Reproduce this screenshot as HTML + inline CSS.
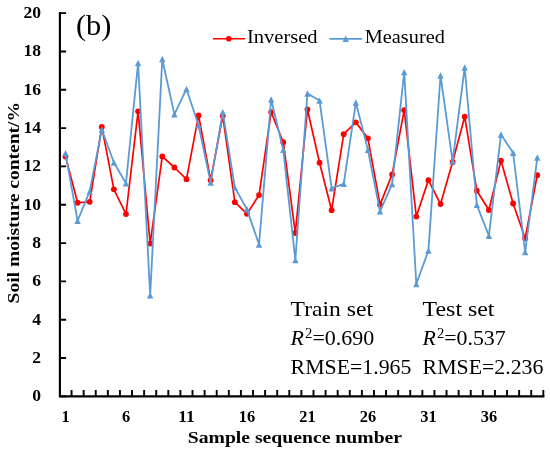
<!DOCTYPE html><html><head><meta charset="utf-8"><title>Chart b</title><style>html,body{margin:0;padding:0;background:#fff}svg{display:block}text{font-family:"Liberation Serif","DejaVu Serif",serif;fill:#000}.b{font-weight:bold}</style></head><body>
<svg width="550" height="454" viewBox="0 0 550 454">
<rect width="550" height="454" fill="#fff"/>
<g stroke="#000" stroke-width="2.15" fill="none" stroke-linecap="square">
<path d="M59.90 13.10V396.40H543.33"/>
</g>
<g stroke="#000" stroke-width="1.9" fill="none">
<path d="M59.90 396.40h6.2M59.90 358.07h6.2M59.90 319.74h6.2M59.90 281.41h6.2M59.90 243.08h6.2M59.90 204.75h6.2M59.90 166.42h6.2M59.90 128.09h6.2M59.90 89.76h6.2M59.90 51.43h6.2M59.90 13.10h6.2M71.55 396.40v-6.4M83.64 396.40v-6.4M95.74 396.40v-6.4M107.84 396.40v-6.4M119.94 396.40v-6.4M132.03 396.40v-6.4M144.13 396.40v-6.4M156.23 396.40v-6.4M168.32 396.40v-6.4M180.42 396.40v-6.4M192.52 396.40v-6.4M204.61 396.40v-6.4M216.71 396.40v-6.4M228.81 396.40v-6.4M240.90 396.40v-6.4M253.00 396.40v-6.4M265.10 396.40v-6.4M277.20 396.40v-6.4M289.29 396.40v-6.4M301.39 396.40v-6.4M313.49 396.40v-6.4M325.58 396.40v-6.4M337.68 396.40v-6.4M349.78 396.40v-6.4M361.88 396.40v-6.4M373.97 396.40v-6.4M386.07 396.40v-6.4M398.17 396.40v-6.4M410.26 396.40v-6.4M422.36 396.40v-6.4M434.46 396.40v-6.4M446.55 396.40v-6.4M458.65 396.40v-6.4M470.75 396.40v-6.4M482.84 396.40v-6.4M494.94 396.40v-6.4M507.04 396.40v-6.4M519.14 396.40v-6.4M531.23 396.40v-6.4M543.33 396.40v-6.4"/></g>
<polyline points="65.50,156.38 77.60,202.75 89.69,201.79 101.79,126.88 113.89,189.34 125.98,214.05 138.08,111.36 150.18,243.56 162.27,156.38 174.37,167.50 186.47,179.18 198.57,115.38 210.66,180.14 222.76,115.76 234.86,202.18 246.95,213.86 259.05,195.09 271.15,112.12 283.24,142.20 295.34,233.02 307.44,109.44 319.54,162.71 331.63,210.22 343.73,134.16 355.83,122.28 367.92,138.37 380.02,204.67 392.12,174.39 404.21,110.21 416.31,216.55 428.41,180.14 440.51,204.09 452.60,161.94 464.70,116.72 476.80,190.68 488.89,210.03 500.99,160.60 513.09,203.52 525.18,238.20 537.28,175.16" fill="none" stroke="#ff0000" stroke-width="1.7" stroke-linejoin="round"/>
<g fill="#ff0000"><circle cx="65.50" cy="156.38" r="2.9"/><circle cx="77.60" cy="202.75" r="2.9"/><circle cx="89.69" cy="201.79" r="2.9"/><circle cx="101.79" cy="126.88" r="2.9"/><circle cx="113.89" cy="189.34" r="2.9"/><circle cx="125.98" cy="214.05" r="2.9"/><circle cx="138.08" cy="111.36" r="2.9"/><circle cx="150.18" cy="243.56" r="2.9"/><circle cx="162.27" cy="156.38" r="2.9"/><circle cx="174.37" cy="167.50" r="2.9"/><circle cx="186.47" cy="179.18" r="2.9"/><circle cx="198.57" cy="115.38" r="2.9"/><circle cx="210.66" cy="180.14" r="2.9"/><circle cx="222.76" cy="115.76" r="2.9"/><circle cx="234.86" cy="202.18" r="2.9"/><circle cx="246.95" cy="213.86" r="2.9"/><circle cx="259.05" cy="195.09" r="2.9"/><circle cx="271.15" cy="112.12" r="2.9"/><circle cx="283.24" cy="142.20" r="2.9"/><circle cx="295.34" cy="233.02" r="2.9"/><circle cx="307.44" cy="109.44" r="2.9"/><circle cx="319.54" cy="162.71" r="2.9"/><circle cx="331.63" cy="210.22" r="2.9"/><circle cx="343.73" cy="134.16" r="2.9"/><circle cx="355.83" cy="122.28" r="2.9"/><circle cx="367.92" cy="138.37" r="2.9"/><circle cx="380.02" cy="204.67" r="2.9"/><circle cx="392.12" cy="174.39" r="2.9"/><circle cx="404.21" cy="110.21" r="2.9"/><circle cx="416.31" cy="216.55" r="2.9"/><circle cx="428.41" cy="180.14" r="2.9"/><circle cx="440.51" cy="204.09" r="2.9"/><circle cx="452.60" cy="161.94" r="2.9"/><circle cx="464.70" cy="116.72" r="2.9"/><circle cx="476.80" cy="190.68" r="2.9"/><circle cx="488.89" cy="210.03" r="2.9"/><circle cx="500.99" cy="160.60" r="2.9"/><circle cx="513.09" cy="203.52" r="2.9"/><circle cx="525.18" cy="238.20" r="2.9"/><circle cx="537.28" cy="175.16" r="2.9"/></g>
<polyline points="65.50,153.32 77.60,220.76 89.69,191.45 101.79,129.56 113.89,162.51 125.98,183.21 138.08,63.07 150.18,295.29 162.27,59.05 174.37,114.42 186.47,88.94 198.57,125.34 210.66,182.63 222.76,112.12 234.86,187.61 246.95,209.26 259.05,244.52 271.15,99.48 283.24,149.68 295.34,260.04 307.44,93.54 319.54,100.44 331.63,188.19 343.73,183.78 355.83,102.54 367.92,149.87 380.02,211.37 392.12,184.17 404.21,72.08 416.31,283.99 428.41,250.65 440.51,75.53 452.60,161.36 464.70,67.48 476.80,204.86 488.89,235.71 500.99,134.54 513.09,152.74 525.18,251.99 537.28,157.53" fill="none" stroke="#5b9bd5" stroke-width="1.8" stroke-linejoin="round"/>
<g fill="#5b9bd5"><path d="M65.50 150.12L68.70 156.52H62.30Z"/><path d="M77.60 217.56L80.80 223.96H74.40Z"/><path d="M89.69 188.25L92.89 194.65H86.49Z"/><path d="M101.79 126.36L104.99 132.76H98.59Z"/><path d="M113.89 159.31L117.09 165.71H110.69Z"/><path d="M125.98 180.01L129.18 186.41H122.78Z"/><path d="M138.08 59.87L141.28 66.27H134.88Z"/><path d="M150.18 292.09L153.38 298.49H146.98Z"/><path d="M162.27 55.85L165.47 62.25H159.07Z"/><path d="M174.37 111.22L177.57 117.62H171.17Z"/><path d="M186.47 85.74L189.67 92.14H183.27Z"/><path d="M198.57 122.14L201.77 128.54H195.37Z"/><path d="M210.66 179.43L213.86 185.83H207.46Z"/><path d="M222.76 108.92L225.96 115.32H219.56Z"/><path d="M234.86 184.41L238.06 190.81H231.66Z"/><path d="M246.95 206.06L250.15 212.46H243.75Z"/><path d="M259.05 241.32L262.25 247.72H255.85Z"/><path d="M271.15 96.28L274.35 102.68H267.95Z"/><path d="M283.24 146.48L286.44 152.88H280.04Z"/><path d="M295.34 256.84L298.54 263.24H292.14Z"/><path d="M307.44 90.34L310.64 96.74H304.24Z"/><path d="M319.54 97.24L322.74 103.64H316.34Z"/><path d="M331.63 184.99L334.83 191.39H328.43Z"/><path d="M343.73 180.58L346.93 186.98H340.53Z"/><path d="M355.83 99.34L359.03 105.74H352.63Z"/><path d="M367.92 146.67L371.12 153.07H364.72Z"/><path d="M380.02 208.17L383.22 214.57H376.82Z"/><path d="M392.12 180.97L395.32 187.37H388.92Z"/><path d="M404.21 68.88L407.41 75.28H401.01Z"/><path d="M416.31 280.79L419.51 287.19H413.11Z"/><path d="M428.41 247.45L431.61 253.85H425.21Z"/><path d="M440.51 72.33L443.71 78.73H437.31Z"/><path d="M452.60 158.16L455.80 164.56H449.40Z"/><path d="M464.70 64.28L467.90 70.68H461.50Z"/><path d="M476.80 201.66L480.00 208.06H473.60Z"/><path d="M488.89 232.51L492.09 238.91H485.69Z"/><path d="M500.99 131.34L504.19 137.74H497.79Z"/><path d="M513.09 149.54L516.29 155.94H509.89Z"/><path d="M525.18 248.79L528.38 255.19H521.98Z"/><path d="M537.28 154.33L540.48 160.73H534.08Z"/></g>
<path d="M213 38.8H245.2" stroke="#ff0000" stroke-width="1.6"/><circle cx="228.8" cy="38.8" r="2.8" fill="#ff0000"/>
<path d="M329.5 38.8H362.1" stroke="#5b9bd5" stroke-width="1.7"/><g fill="#5b9bd5"><path d="M345.70 35.60L348.90 42.00H342.50Z"/></g>
<text x="247" y="43.3" font-size="18" text-anchor="start" textLength="70.6" lengthAdjust="spacingAndGlyphs">Inversed</text>
<text x="364.8" y="43.3" font-size="18" text-anchor="start" textLength="80" lengthAdjust="spacingAndGlyphs">Measured</text>
<text x="76" y="34.5" font-size="28.5" text-anchor="start" textLength="35.4" lengthAdjust="spacingAndGlyphs">(b)</text>
<text x="32.2" y="401.2" font-size="16.3" class="b" text-anchor="start" textLength="8.8" lengthAdjust="spacingAndGlyphs">0</text>
<text x="32.2" y="362.9" font-size="16.3" class="b" text-anchor="start" textLength="8.8" lengthAdjust="spacingAndGlyphs">2</text>
<text x="32.2" y="324.5" font-size="16.3" class="b" text-anchor="start" textLength="8.8" lengthAdjust="spacingAndGlyphs">4</text>
<text x="32.2" y="286.2" font-size="16.3" class="b" text-anchor="start" textLength="8.8" lengthAdjust="spacingAndGlyphs">6</text>
<text x="32.2" y="247.9" font-size="16.3" class="b" text-anchor="start" textLength="8.8" lengthAdjust="spacingAndGlyphs">8</text>
<text x="23.4" y="209.6" font-size="16.3" class="b" text-anchor="start" textLength="17.6" lengthAdjust="spacingAndGlyphs">10</text>
<text x="23.4" y="171.2" font-size="16.3" class="b" text-anchor="start" textLength="17.6" lengthAdjust="spacingAndGlyphs">12</text>
<text x="23.4" y="132.9" font-size="16.3" class="b" text-anchor="start" textLength="17.6" lengthAdjust="spacingAndGlyphs">14</text>
<text x="23.4" y="94.6" font-size="16.3" class="b" text-anchor="start" textLength="17.6" lengthAdjust="spacingAndGlyphs">16</text>
<text x="23.4" y="56.2" font-size="16.3" class="b" text-anchor="start" textLength="17.6" lengthAdjust="spacingAndGlyphs">18</text>
<text x="23.4" y="17.9" font-size="16.3" class="b" text-anchor="start" textLength="17.6" lengthAdjust="spacingAndGlyphs">20</text>
<text x="61.4" y="421.8" font-size="16.3" class="b" text-anchor="start" textLength="8.2" lengthAdjust="spacingAndGlyphs">1</text>
<text x="121.9" y="421.8" font-size="16.3" class="b" text-anchor="start" textLength="8.2" lengthAdjust="spacingAndGlyphs">6</text>
<text x="178.3" y="421.8" font-size="16.3" class="b" text-anchor="start" textLength="16.4" lengthAdjust="spacingAndGlyphs">11</text>
<text x="238.8" y="421.8" font-size="16.3" class="b" text-anchor="start" textLength="16.4" lengthAdjust="spacingAndGlyphs">16</text>
<text x="299.2" y="421.8" font-size="16.3" class="b" text-anchor="start" textLength="16.4" lengthAdjust="spacingAndGlyphs">21</text>
<text x="359.7" y="421.8" font-size="16.3" class="b" text-anchor="start" textLength="16.4" lengthAdjust="spacingAndGlyphs">26</text>
<text x="420.2" y="421.8" font-size="16.3" class="b" text-anchor="start" textLength="16.4" lengthAdjust="spacingAndGlyphs">31</text>
<text x="480.7" y="421.8" font-size="16.3" class="b" text-anchor="start" textLength="16.4" lengthAdjust="spacingAndGlyphs">36</text>
<text x="187.7" y="442.8" font-size="17" class="b" text-anchor="start" textLength="214.4" lengthAdjust="spacingAndGlyphs">Sample sequence number</text>
<text transform="translate(19 303.4) rotate(-90)" font-size="17" class="b" textLength="201.5" lengthAdjust="spacingAndGlyphs">Soil moisture content/%</text>
<text x="290.6" y="315.8" font-size="21" text-anchor="start" textLength="82.4" lengthAdjust="spacingAndGlyphs">Train set</text>
<text x="422.6" y="315.8" font-size="21" text-anchor="start" textLength="71.9" lengthAdjust="spacingAndGlyphs">Test set</text>
<text x="290.4" y="344.7" font-size="21" textLength="83.9" lengthAdjust="spacingAndGlyphs"><tspan font-style="italic">R</tspan><tspan font-size="14" dy="-7" dx="1.2">2</tspan><tspan dy="7">=0.690</tspan></text>
<text x="422.4" y="344.7" font-size="21" textLength="83.3" lengthAdjust="spacingAndGlyphs"><tspan font-style="italic">R</tspan><tspan font-size="14" dy="-7" dx="1.2">2</tspan><tspan dy="7">=0.537</tspan></text>
<text x="290.6" y="373.5" font-size="21" text-anchor="start" textLength="120.8" lengthAdjust="spacingAndGlyphs">RMSE=1.965</text>
<text x="422.6" y="373.5" font-size="21" text-anchor="start" textLength="120.8" lengthAdjust="spacingAndGlyphs">RMSE=2.236</text>
</svg></body></html>
